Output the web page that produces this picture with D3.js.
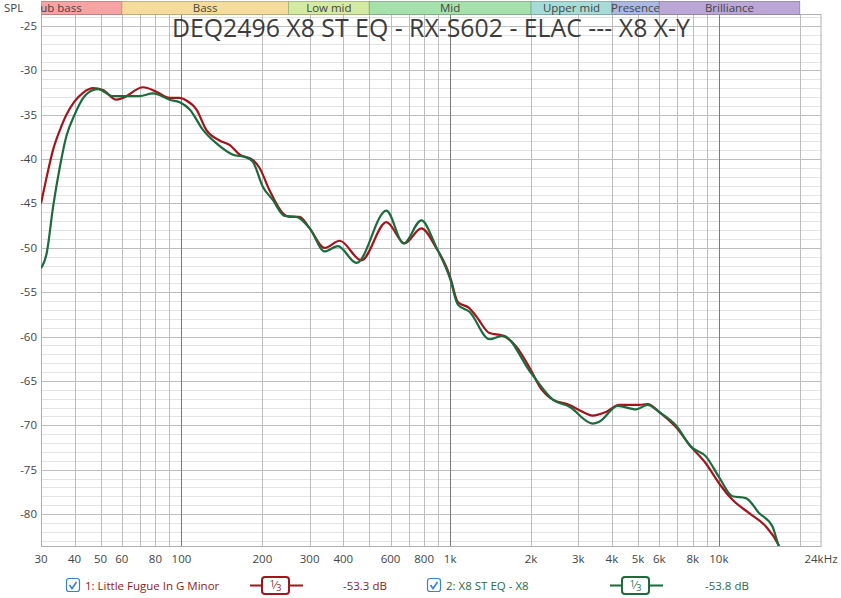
<!DOCTYPE html>
<html>
<head>
<meta charset="utf-8">
<script src="https://cdn.jsdelivr.net/npm/d3@7"></script>
<style>
  body { margin: 0; background: #fff; }
  svg { display: block; font-family: "Open Sans", "Noto Sans", sans-serif; }
</style>
</head>
<body>
<div id="chart"></div>
<script>
// measurement 1 (red) - Little Fugue In G Minor
const redFreq = [30, 31.5, 33.3, 35.3, 37.3, 40, 43.1, 46.9, 51, 57.2, 60.5, 72, 80.6, 90.3, 98.5,
  104.3, 113.6, 123.7, 138.5, 151, 164.6, 184.4, 195.3, 212.6, 238.5, 252.7, 275, 300,
  341, 388, 467, 579, 677, 781, 887, 966, 1000, 1068, 1180, 1250, 1400, 1570, 1760, 2000,
  2150, 2410, 2780, 3030, 3390, 3800, 4260, 5060, 5430, 6000, 6920, 7870, 8950, 10000,
  11240, 12970, 14960, 16620, 17200];
const redDb = [-45.0, -42.0, -38.9, -36.7, -35.0, -33.5, -32.5, -32.0, -32.2, -33.3, -33.1, -31.9, -32.4, -33.1, -33.1,
  -33.4, -34.4, -36.7, -37.9, -38.4, -39.5, -40.1, -41.0, -43.5, -46.1, -46.5, -46.5, -47.8,
  -50.0, -49.2, -51.4, -47.1, -49.5, -47.8, -50.0, -52.1, -53.3, -56.1, -56.8, -57.7, -59.6, -59.9, -61.1, -63.8,
  -65.6, -67.1, -67.7, -68.3, -68.9, -68.5, -67.7, -67.7, -67.6, -68.5, -70.2, -72.4, -74.3, -76.5,
  -78.4, -79.9, -81.4, -83.4, -84.5];

// measurement 2 (green) - X8 ST EQ - X8
const greenFreq = [30, 31.5, 33.3, 35.3, 37.3, 40, 43.1, 46.9, 48.9, 55.6, 60.5, 69.8, 78.3, 90.3, 98.5,
  107.3, 120.2, 134.6, 155.4, 174.3, 184.4, 200.8, 218.7, 242, 267.6, 300,
  341, 382, 448, 579, 671, 781, 887, 1000, 1068, 1180, 1400, 1570, 2000,
  2410, 2780, 3390, 3590, 4200, 4920, 5430, 6000, 6920, 7870, 8950, 10000,
  11240, 12600, 14130, 15830, 16620, 17200];
const greenDb = [-52.3, -50.6, -45.3, -40.8, -37.4, -35.0, -33.1, -32.2, -32.1, -32.9, -32.9, -32.9, -32.6, -33.3, -33.6,
  -34.4, -36.7, -38.2, -39.5, -39.8, -40.3, -43.1, -44.6, -46.4, -46.5, -47.8,
  -50.4, -49.8, -51.7, -45.8, -49.5, -46.9, -49.9, -53.5, -56.4, -57.2, -60.3, -59.9, -64.1,
  -67.1, -67.9, -69.8, -69.6, -67.8, -68.2, -67.7, -68.5, -70.0, -72.4, -73.5, -75.8,
  -78.0, -78.2, -79.9, -81.4, -83.4, -84.6];

const xTicks = [30, 40, 50, 60, 80, 100, 200, 300, 400, 600, 800, 1000, 2000, 3000, 4000, 5000, 6000, 8000, 10000, 24000];
const xTickLabels = ["30", "40", "50", "60", "80", "100", "200", "300", "400", "600", "800", "1k", "2k", "3k", "4k", "5k", "6k", "8k", "10k", "24kHz"];
const yTicks = [-25, -30, -35, -40, -45, -50, -55, -60, -65, -70, -75, -80];

const bandNames = ["Sub bass", "Bass", "Low mid", "Mid", "Upper mid", "Presence", "Brilliance"];
const bandEdges = [20, 60, 250, 500, 2000, 4000, 6000, 20000];
const bandColors = ["#f5a3a3", "#f6dc9c", "#d4e9a2", "#a6e0aa", "#a6dcd8", "#abb9e2", "#bba7d6"];

const legendNames = ["1: Little Fugue In G Minor", "2: X8 ST EQ - X8"];
const legendValues = ["-53.3 dB", "-53.8 dB"];
const seriesColors = ["#a3141c", "#1b6b3c"];
const legendTextColors = ["#8e2020", "#2a6a48"];

const W = 841, H = 598;
const plotLeft = 41, plotRight = 821, plotTop = 14.5, plotBottom = 546;

const svg = d3.select("#chart").append("svg")
  .attr("width", W).attr("height", H);

const x = d3.scaleLog().domain([30, 24000]).range([plotLeft, plotRight]);
const y = d3.scaleLinear().domain([-83.6, -23.7]).range([plotBottom, plotTop]);

svg.append("clipPath").attr("id", "plotclip")
  .append("rect").attr("x", plotLeft).attr("y", plotTop)
  .attr("width", plotRight - plotLeft).attr("height", plotBottom - plotTop);
svg.append("clipPath").attr("id", "bandclip")
  .append("rect").attr("x", plotLeft).attr("y", 0)
  .attr("width", plotRight - plotLeft).attr("height", plotTop + 1);

// grid
const grid = svg.append("g");
d3.range(-83, -23).forEach(v => {
  grid.append("line")
    .attr("x1", plotLeft).attr("x2", plotRight)
    .attr("y1", Math.round(y(v)) + 0.5).attr("y2", Math.round(y(v)) + 0.5)
    .attr("stroke", v % 5 === 0 ? "#bdbdbd" : "#e3e3e3");
});
const vFreqs = [];
[10, 100, 1000, 10000].forEach(dec => {
  for (let m = 1; m <= 9; m++) {
    const f = dec * m;
    if (f >= 30 && f <= 24000) vFreqs.push(f);
  }
});
vFreqs.forEach(f => {
  const isDecade = [100, 1000, 10000].includes(f);
  grid.append("line")
    .attr("x1", Math.round(x(f)) + 0.5).attr("x2", Math.round(x(f)) + 0.5)
    .attr("y1", plotTop).attr("y2", plotBottom)
    .attr("stroke", isDecade ? "#7a7a7a" : "#bdbdbd");
});
// frame
svg.append("rect")
  .attr("x", plotLeft + 0.5).attr("y", plotTop)
  .attr("width", plotRight - plotLeft - 0.5).attr("height", plotBottom - plotTop + 0.5)
  .attr("fill", "none").attr("stroke", "#b0b0b0");

// frequency band bar
const bands = svg.append("g").attr("clip-path", "url(#bandclip)");
bandNames.forEach((name, i) => {
  const x0 = Math.max(x(bandEdges[i]), plotLeft);
  const x1 = x(bandEdges[i + 1]);
  bands.append("rect")
    .attr("x", x0).attr("y", 1.5).attr("width", x1 - x0).attr("height", 13)
    .attr("fill", bandColors[i]).attr("stroke", d3.color(bandColors[i]).darker(0.8)).attr("stroke-width", 0.8);
  bands.append("text")
    .attr("x", x(Math.sqrt(bandEdges[i] * bandEdges[i + 1])))
    .attr("y", 12)
    .attr("text-anchor", "middle")
    .attr("fill", "#444")
    .style("font-size", "11.5px")
    .text(name);
});
svg.append("text").attr("x", 4).attr("y", 12).attr("fill", "#444")
  .style("font-size", "11.5px").text("SPL");

// title
const title = svg.append("text")
  .attr("x", 431).attr("y", 37)
  .attr("text-anchor", "middle")
  .attr("fill", "#3c3c3c")
  .style("font-size", "23px")
  .text("DEQ2496 X8 ST EQ - RX-S602 - ELAC --- X8 X-Y");
const tw = title.node().getComputedTextLength();
title.style("font-size", (23 * 518 / tw).toFixed(2) + "px");

// axes labels
yTicks.forEach(v => {
  svg.append("text")
    .attr("x", 37).attr("y", y(v) + 4)
    .attr("text-anchor", "end")
    .attr("fill", "#444")
    .style("font-size", "11.5px")
    .text(v);
});
xTicks.forEach((f, i) => {
  svg.append("text")
    .attr("x", x(f)).attr("y", 563)
    .attr("text-anchor", "middle")
    .attr("fill", "#444")
    .style("font-size", "11.5px")
    .text(xTickLabels[i]);
});

// curves
const line = d3.line()
  .x(d => x(d[0]))
  .y(d => y(d[1]))
  .curve(d3.curveMonotoneX);
const curves = svg.append("g").attr("clip-path", "url(#plotclip)");
[[redFreq, redDb], [greenFreq, greenDb]].forEach((s, i) => {
  curves.append("path")
    .datum(s[0].map((f, j) => [f, s[1][j]]))
    .attr("fill", "none")
    .attr("stroke", seriesColors[i])
    .attr("stroke-width", 2.2)
    .attr("stroke-linejoin", "round")
    .attr("d", line);
});

// legend
const legendX = [66, 427];
const symbolX = [250, 610];
const valueX = [343, 705];
const ly = 586;
legendNames.forEach((name, i) => {
  const g = svg.append("g");
  const cx = legendX[i];
  g.append("rect")
    .attr("x", cx + 0.5).attr("y", ly - 7.5).attr("width", 13).attr("height", 13).attr("rx", 2.5)
    .attr("fill", "#fff").attr("stroke", "#3a7fd2").attr("stroke-width", 1.2);
  g.append("path")
    .attr("d", `M${cx + 3.5},${ly - 1} L${cx + 6},${ly + 2.5} L${cx + 10.5},${ly - 4}`)
    .attr("fill", "none").attr("stroke", "#3a7fd2").attr("stroke-width", 1.6);
  g.append("text")
    .attr("x", cx + 19).attr("y", ly + 4)
    .attr("fill", legendTextColors[i])
    .style("font-size", "11.5px")
    .text(name);
  const sx = symbolX[i];
  g.append("line")
    .attr("x1", sx).attr("x2", sx + 53).attr("y1", ly - 0.5).attr("y2", ly - 0.5)
    .attr("stroke", seriesColors[i]).attr("stroke-width", 2);
  g.append("rect")
    .attr("x", sx + 12).attr("y", ly - 9).attr("width", 27).attr("height", 17).attr("rx", 3)
    .attr("fill", "#fff").attr("stroke", seriesColors[i]).attr("stroke-width", 2);
  const frac = g.append("text")
    .attr("x", sx + 25.5).attr("y", ly + 4)
    .attr("text-anchor", "middle")
    .attr("fill", legendTextColors[i])
    .style("font-size", "11px");
  frac.append("tspan").attr("dy", -3).style("font-size", "9px").text("1");
  frac.append("tspan").attr("dy", 2).text("⁄");
  frac.append("tspan").attr("dy", 2).style("font-size", "9px").text("3");
  g.append("text")
    .attr("x", valueX[i]).attr("y", ly + 4)
    .attr("fill", legendTextColors[i])
    .style("font-size", "11.5px")
    .text(legendValues[i]);
});
</script>
</body>
</html>
